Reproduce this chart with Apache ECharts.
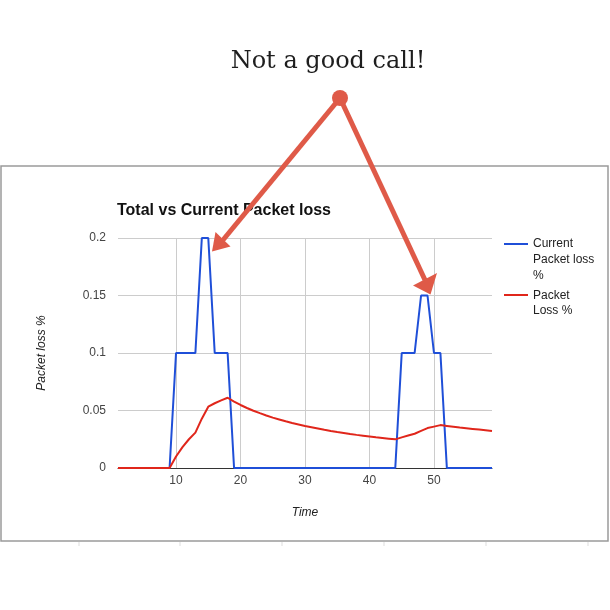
<!DOCTYPE html>
<html>
<head>
<meta charset="utf-8">
<script src="https://cdn.jsdelivr.net/npm/echarts@6/dist/echarts.min.js"></script>
<style>
html,body{margin:0;padding:0;background:#fff;}
#chart{width:610px;height:610px;}
</style>
</head>
<body>
<div id="chart"></div>
<script>
// Time (x categories)
var timeCategories = [1,2,3,4,5,6,7,8,9,10,11,12,13,14,15,16,17,18,19,20,
  21,22,23,24,25,26,27,28,29,30,31,32,33,34,35,36,37,38,39,40,
  41,42,43,44,45,46,47,48,49,50,51,52,53,54,55,56,57,58,59];

// Current Packet loss % (blue)
var currentLoss = [0,0,0,0,0,0,0,0,0,0.1,0.1,0.1,0.1,0.2,0.2,0.1,0.1,0.1,0,0,
  0,0,0,0,0,0,0,0,0,0,0,0,0,0,0,0,0,0,0,0,
  0,0,0,0,0.1,0.1,0.1,0.15,0.15,0.1,0.1,0,0,0,0,0,0,0,0];

// Packet Loss % (red, running total)
var totalLoss = [0,0,0,0,0,0,0,0,0,0.0100,0.0182,0.0250,0.0308,0.0429,0.0533,0.0563,0.0588,0.0611,0.0577,0.0548,
  0.0522,0.0498,0.0477,0.0457,0.0438,0.0422,0.0406,0.0391,0.0378,0.0365,0.0354,0.0343,0.0332,0.0322,0.0313,0.0305,0.0296,0.0288,0.0281,0.0274,
  0.0267,0.0261,0.0255,0.0249,0.0266,0.0282,0.0298,0.0323,0.0347,0.0360,0.0373,0.0366,0.0359,0.0352,0.0346,0.0340,0.0334,0.0328,0.0322];

var yTicks = [0, 0.05, 0.1, 0.15, 0.2];

var seriesNames = ['Current Packet loss %', 'Packet Loss %'];
var legendLabels = ['Current\nPacket loss\n%', 'Packet\nLoss %'];

var chart = echarts.init(document.getElementById('chart'), null, {renderer: 'canvas'});

var labelFont = 'Arial, "Liberation Sans", sans-serif';
var coral = '#df5a48';

function isTen(idx, val) { return Number(val) % 10 === 0; }

// legend line icon sitting at the top of a taller box so the first text line aligns with it
var iconTall3 = 'path://M0,0H24V2H0Z M0,33.99H0.01V34H0Z';
var iconTall2 = 'path://M0,0H24V2H0Z M0,17.99H0.01V18H0Z';

var option = {
  animation: false,
  backgroundColor: '#ffffff',
  title: {
    text: 'Total vs Current Packet loss',
    left: 117,
    top: 203,
    padding: 0,
    textStyle: {fontFamily: labelFont, fontSize: 16, fontWeight: 'bold', color: '#111'}
  },
  legend: [
    {
      data: [{name: seriesNames[0], icon: iconTall3}],
      orient: 'vertical', left: 504, top: 236, padding: 0,
      itemWidth: 24, itemHeight: 34,
      formatter: function () { return legendLabels[0]; },
      textStyle: {fontFamily: labelFont, fontSize: 12, color: '#222', lineHeight: 16}
    },
    {
      data: [{name: seriesNames[1], icon: iconTall2}],
      orient: 'vertical', left: 504, top: 288, padding: 0,
      itemWidth: 24, itemHeight: 18,
      formatter: function () { return legendLabels[1]; },
      textStyle: {fontFamily: labelFont, fontSize: 12, color: '#222', lineHeight: 15}
    }
  ],
  grid: {left: 118, right: 118, top: 238, bottom: 142, containLabel: false},
  xAxis: {
    type: 'category',
    data: timeCategories,
    boundaryGap: false,
    name: 'Time',
    nameLocation: 'middle',
    nameGap: 39,
    nameTextStyle: {fontFamily: labelFont, fontSize: 12, fontStyle: 'italic', color: '#222'},
    axisLine: {show: true, lineStyle: {color: '#333', width: 1}},
    axisTick: {show: false},
    axisLabel: {interval: isTen, margin: 7, fontFamily: labelFont, fontSize: 12, color: '#444'},
    splitLine: {show: true, interval: isTen, lineStyle: {color: '#cccccc', width: 1}}
  },
  yAxis: {
    type: 'value',
    min: yTicks[0],
    max: yTicks[yTicks.length - 1],
    interval: 0.05,
    name: 'Packet loss %',
    nameLocation: 'middle',
    nameGap: 70,
    nameTextStyle: {fontFamily: labelFont, fontSize: 12, fontStyle: 'italic', color: '#222'},
    axisLine: {show: false},
    axisTick: {show: false},
    axisLabel: {margin: 12, fontFamily: labelFont, fontSize: 12, color: '#444'},
    splitLine: {show: true, lineStyle: {color: '#cccccc', width: 1}}
  },
  series: [
    {
      name: seriesNames[0], type: 'line', data: currentLoss,
      symbol: 'none', color: '#1f4fd8',
      lineStyle: {color: '#1f4fd8', width: 2}
    },
    {
      name: seriesNames[1], type: 'line', data: totalLoss,
      symbol: 'none', color: '#e0261b',
      lineStyle: {color: '#e0261b', width: 2}
    }
  ],
  graphic: [
    {type: 'rect', z: 1, shape: {x: 1, y: 166, width: 607, height: 375},
      style: {fill: 'none', stroke: '#9a9a9a', lineWidth: 1.5}},
    {type: 'text', z: 100, x: 328, y: 62,
      style: {text: 'Not a good call!', fontFamily: '"DejaVu Serif", Georgia, serif', fontSize: 24,
        fill: '#1e1e1e', align: 'center', verticalAlign: 'middle'}},
    {type: 'line', z: 100, shape: {x1: 340, y1: 98, x2: 223, y2: 240},
      style: {stroke: coral, lineWidth: 5}},
    {type: 'line', z: 100, shape: {x1: 340, y1: 98, x2: 425, y2: 280},
      style: {stroke: coral, lineWidth: 5}},
    {type: 'polygon', z: 101, shape: {points: [[212, 251.5], [215.5, 232], [230.5, 246.5]]},
      style: {fill: coral}},
    {type: 'polygon', z: 101, shape: {points: [[430.5, 294.5], [413, 285.5], [437, 273]]},
      style: {fill: coral}},
    {type: 'circle', z: 101, shape: {cx: 340, cy: 98, r: 8}, style: {fill: coral}},
    {type: 'group', z: 1, children: [79, 180, 282, 384, 486, 588].map(function (x) {
      return {type: 'line', shape: {x1: x, y1: 542, x2: x, y2: 546}, style: {stroke: '#dddddd', lineWidth: 1}};
    })}
  ]
};

chart.setOption(option);
</script>
</body>
</html>
